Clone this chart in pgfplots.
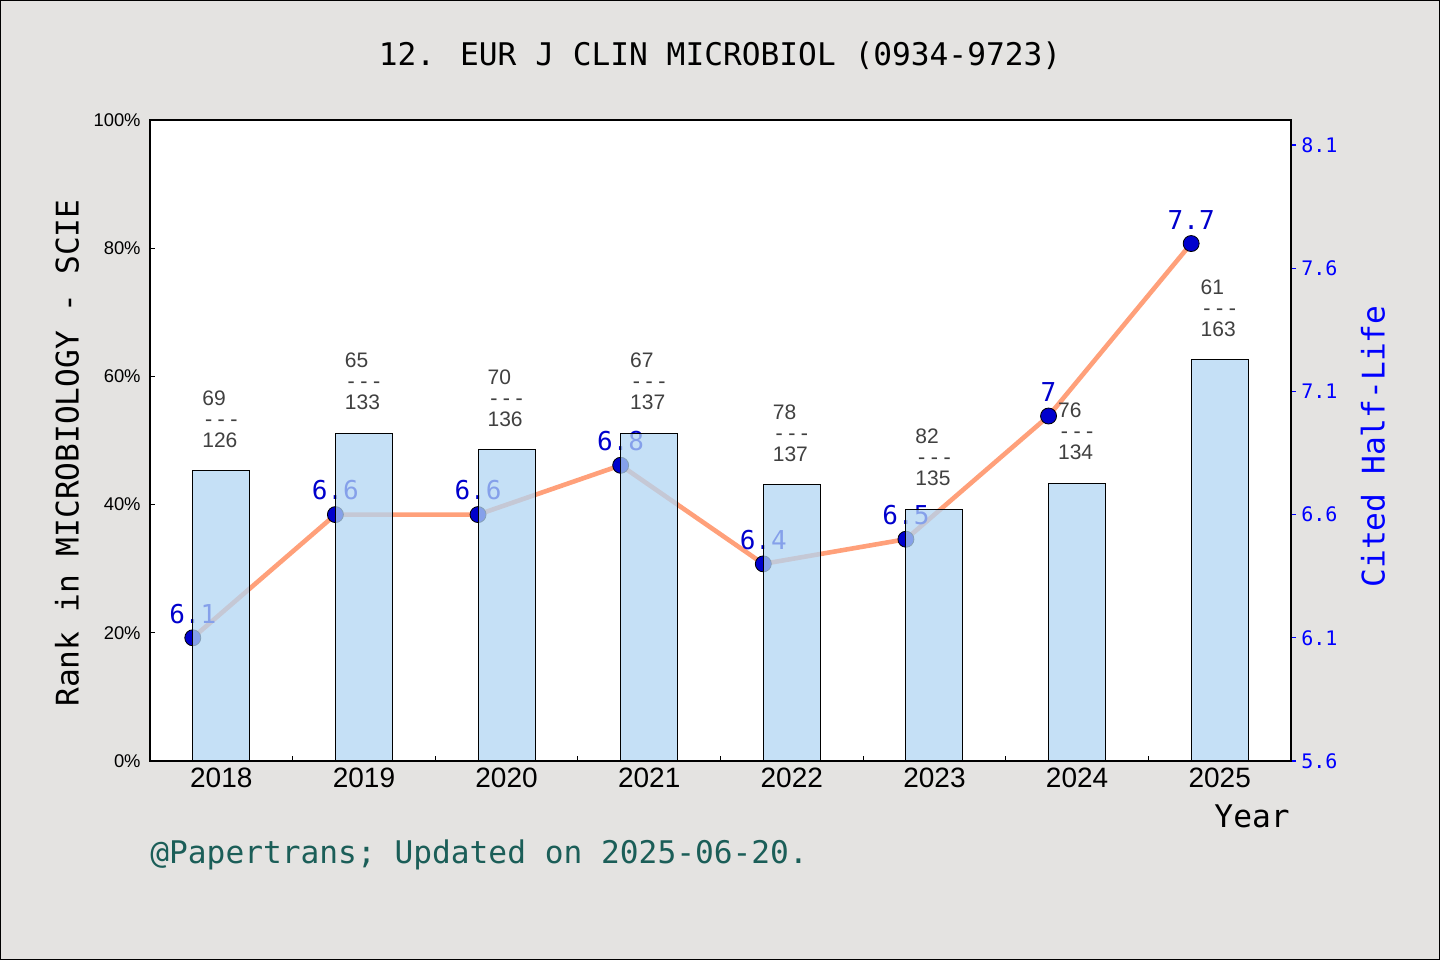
\documentclass[border=0pt]{standalone}
\usepackage{fontspec}
\usepackage{pgfplots}
\pgfplotsset{compat=1.18}
\setmainfont{Liberation Sans}
\newfontfamily\mono{DejaVu Sans Mono}

\definecolor{bggray}{RGB}{228,227,225}
\definecolor{barblue}{RGB}{178,214,244}
\definecolor{salmonline}{RGB}{255,160,122}
\definecolor{markblue}{RGB}{0,0,205}
\definecolor{axisblue}{RGB}{0,0,255}
\definecolor{fracgray}{RGB}{64,64,64}
\definecolor{footteal}{RGB}{27,94,88}

% rank / total label stacked over the bar
\newcommand\fr[2]{#1\\{\mono\fontsize{10.5bp}{10.5bp}\selectfont -{}-{}-}\\#2}

\begin{document}
\begin{tikzpicture}[x=1bp,y=1bp]
\fill[bggray] (0,0) rectangle (720,480);
\draw[black,line width=0.6bp] (0.3,0.3) rectangle (719.7,479.7);

% cited half-life (right axis), drawn first so bars overlay it
\begin{axis}[
    at={(75bp,99.5bp)}, anchor=south west,
    scale only axis, width=570.5bp, height=320.5bp,
    xmin=-0.5, xmax=7.5,
    ymin=5.6, ymax=8.2015,
    axis x line=none,
    axis y line*=right,
    axis line style={line width=1.3bp},
    axis background/.style={fill=white},
    ytick={5.6,6.1,6.6,7.1,7.6,8.1},
    ytick align=outside,
    major tick length=2.5bp,
    every tick/.style={axisblue,line width=0.6bp},
    /pgf/number format/assume math mode=true,
    yticklabel style={font=\mono\fontsize{10bp}{12bp}\selectfont,text=axisblue,
        anchor=west,inner sep=0pt,xshift=2.5bp},
    yticklabel={\pgfmathprintnumber[fixed,precision=1,fixed zerofill]{\tick}},
    clip=false,
]
\addplot[salmonline, line width=2.3bp, line join=round,
    mark=*, mark size=4bp,
    mark options={fill=markblue, draw=black, line width=0.4bp},
    nodes near coords, point meta=explicit symbolic,
    every node near coord/.style={font=\mono\fontsize{13bp}{15bp}\selectfont,
        text=markblue, anchor=south, inner sep=0pt, yshift=7bp}]
coordinates {
    (-0.2,6.1) [6.1]
    (0.8,6.6) [6.6]
    (1.8,6.6) [6.6]
    (2.8,6.8) [6.8]
    (3.8,6.4) [6.4]
    (4.8,6.5) [6.5]
    (5.8,7.0) [7]
    (6.8,7.7) [7.7]
};
\end{axis}

% rank bars (left axis), height = 1 - rank/total
\begin{axis}[
    at={(75bp,99.5bp)}, anchor=south west,
    scale only axis, width=570.5bp, height=320.5bp,
    xmin=-0.5, xmax=7.5,
    ymin=0, ymax=100,
    axis line style={line width=1.3bp},
    xtick={0,...,7},
    xticklabels={2018,2019,2020,2021,2022,2023,2024,2025},
    minor xtick={0.5,1.5,...,6.5},
    xtick pos=bottom, ytick pos=left,
    tick align=inside,
    major x tick style={draw=none},
    major tick length=2.5bp, minor tick length=2.5bp,
    every tick/.style={black,line width=0.6bp},
    ytick={0,20,...,100},
    /pgf/number format/assume math mode=true,
    yticklabel={\pgfmathprintnumber{\tick}\%},
    yticklabel style={font=\fontsize{9.2bp}{11bp}\selectfont,
        anchor=east,inner sep=0pt,xshift=-4.5bp},
    xticklabel style={font=\fontsize{14bp}{16bp}\selectfont,
        anchor=north,inner sep=0pt,yshift=-3.5bp},
    clip=false,
]
\addplot[ybar, bar width=0.4, fill=barblue, fill opacity=0.75,
    draw=black, line width=0.5bp,
    point meta=explicit symbolic,
    nodes near coords,
    every node near coord/.style={align=left, anchor=center, yshift=26bp,
        font=\fontsize{10.5bp}{10.5bp}\selectfont, text=fracgray,
        fill opacity=1, text opacity=1, draw opacity=1, inner sep=0pt}]
coordinates {
    (0,45.24) [\fr{69}{126}]
    (1,51.13) [\fr{65}{133}]
    (2,48.53) [\fr{70}{136}]
    (3,51.09) [\fr{67}{137}]
    (4,43.07) [\fr{78}{137}]
    (5,39.26) [\fr{82}{135}]
    (6,43.28) [\fr{76}{134}]
    (7,62.58) [\fr{61}{163}]
};
\end{axis}

\node[font=\mono\fontsize{15.6bp}{18bp}\selectfont] at (360,452) {12. EUR J CLIN MICROBIOL (0934-9723)};
\node[font=\mono\fontsize{15.6bp}{18bp}\selectfont, rotate=90] at (33.5,253.5) {Rank in MICROBIOLOGY - SCIE};
\node[font=\mono\fontsize{15.6bp}{18bp}\selectfont, rotate=90, text=axisblue] at (686.5,256.75) {Cited Half-Life};
\node[font=\mono\fontsize{15.6bp}{18bp}\selectfont, anchor=east, inner sep=0pt] at (645,72) {Year};
\node[font=\mono\fontsize{15.6bp}{18bp}\selectfont, anchor=west, inner sep=0pt, text=footteal] at (75,52.5) {@Papertrans; Updated on 2025-06-20.};
\end{tikzpicture}
\end{document}
